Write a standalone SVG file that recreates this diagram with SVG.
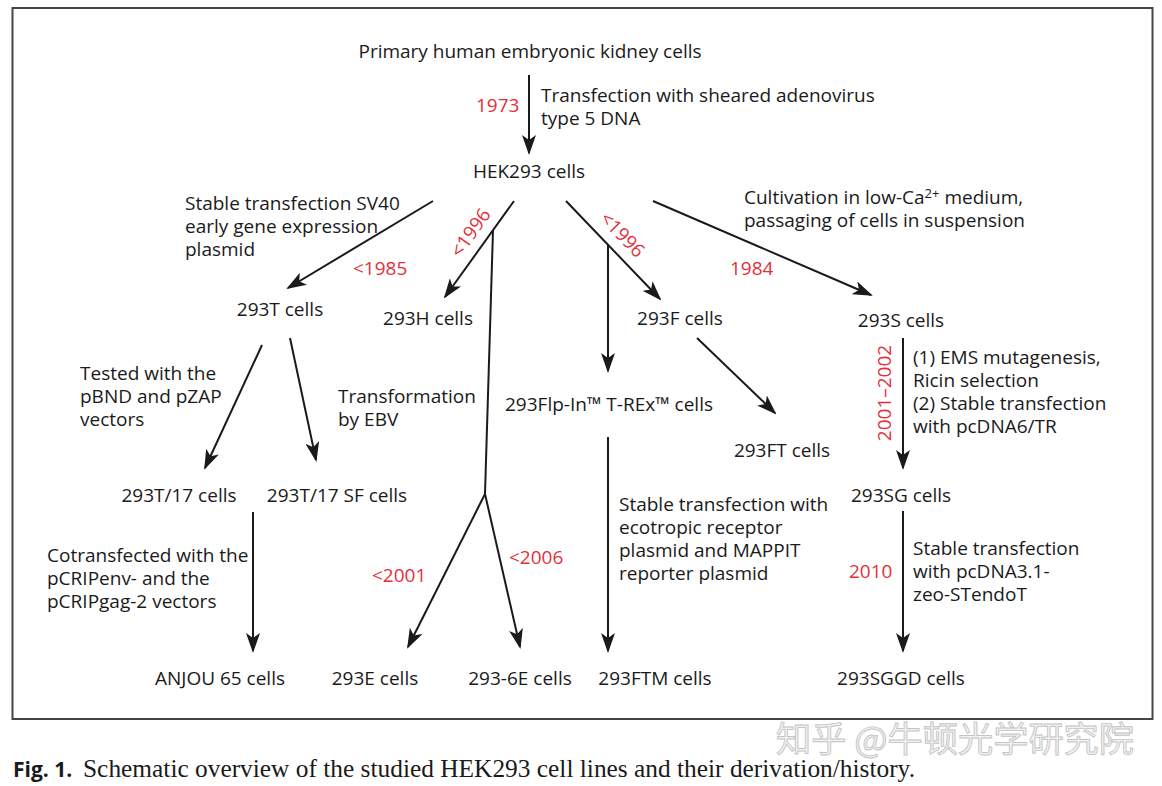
<svg xmlns="http://www.w3.org/2000/svg" width="1162" height="786" viewBox="0 0 1162 786">
<style>
.t{font-family:"Open Sans","Noto Sans","DejaVu Sans",sans-serif;font-size:19px;fill:#1a1a1a}
.r{font-family:"Open Sans","Noto Sans","DejaVu Sans",sans-serif;font-size:19px;fill:#e3303b}
.ln{stroke:#1a1a1a;stroke-width:2;fill:none}
.a{stroke:#1a1a1a;stroke-width:2;fill:none;marker-end:url(#ah)}
</style>
<defs>
<marker id="ah" viewBox="0 0 20 14" refX="18" refY="7" markerWidth="20" markerHeight="14" markerUnits="userSpaceOnUse" orient="auto">
<path d="M0,0 L20,7 L0,14 L5,7 Z" fill="#1a1a1a"/>
</marker>
</defs>
<rect width="1162" height="786" fill="#fff"/>
<rect x="12.5" y="8" width="1140" height="711" fill="none" stroke="#444" stroke-width="2"/>

<g id="connectors">
<line class="a" x1="529" y1="75" x2="529" y2="153"/>
<line class="a" x1="433" y1="201" x2="288" y2="288"/>
<line class="a" x1="514" y1="201" x2="445" y2="297"/>
<polyline class="ln" points="493,230 485,494"/>
<line class="a" x1="485" y1="494" x2="408" y2="647"/>
<line class="a" x1="485" y1="494" x2="520" y2="647"/>
<line class="a" x1="566" y1="201" x2="660" y2="299"/>
<line class="a" x1="608" y1="244" x2="608" y2="371"/>
<line class="a" x1="653" y1="201" x2="871" y2="295"/>
<line class="a" x1="262" y1="345" x2="205" y2="468"/>
<line class="a" x1="290" y1="338" x2="316" y2="460"/>
<line class="a" x1="697" y1="338" x2="775" y2="413"/>
<line class="a" x1="903" y1="338" x2="903" y2="468"/>
<line class="a" x1="253" y1="512" x2="253" y2="651"/>
<line class="a" x1="608" y1="437" x2="608" y2="651"/>
<line class="a" x1="903" y1="511" x2="903" y2="651"/>
</g>

<g id="labels">
<text class="r" x="476" y="112">1973</text>
<text class="t" x="541" y="102">Transfection with sheared adenovirus<tspan x="541" dy="23">type 5 DNA</tspan></text>
<text class="t" x="185" y="210">Stable transfection SV40<tspan x="185" dy="23">early gene expression</tspan><tspan x="185" dy="23">plasmid</tspan></text>
<text class="r" x="353" y="275">&lt;1985</text>
<text class="r" transform="translate(471,233) rotate(-54.7)" text-anchor="middle" y="6">&lt;1996</text>
<text class="r" transform="translate(622,235) rotate(45.9)" text-anchor="middle" y="6">&lt;1996</text>
<text class="t" x="744" y="204">Cultivation in low-Ca<tspan font-size="13" dy="-6">2+</tspan><tspan dy="6"> medium,</tspan><tspan x="744" dy="23">passaging of cells in suspension</tspan></text>
<text class="r" x="730" y="275">1984</text>
<text class="t" x="80" y="380">Tested with the<tspan x="80" dy="23">pBND and pZAP</tspan><tspan x="80" dy="23">vectors</tspan></text>
<text class="t" x="338" y="403">Transformation<tspan x="338" dy="23">by EBV</tspan></text>
<text class="r" transform="translate(885,393) rotate(-90)" text-anchor="middle" y="6">2001–2002</text>
<text class="t" x="913" y="364">(1) EMS mutagenesis,<tspan x="913" dy="23">Ricin selection</tspan><tspan x="913" dy="23">(2) Stable transfection</tspan><tspan x="913" dy="23">with pcDNA6/TR</tspan></text>
<text class="t" x="47" y="562">Cotransfected with the<tspan x="47" dy="23">pCRIPenv- and the</tspan><tspan x="47" dy="23">pCRIPgag-2 vectors</tspan></text>
<text class="r" x="372" y="582">&lt;2001</text>
<text class="r" x="509" y="564">&lt;2006</text>
<text class="t" x="619" y="511">Stable transfection with<tspan x="619" dy="23">ecotropic receptor</tspan><tspan x="619" dy="23">plasmid and MAPPIT</tspan><tspan x="619" dy="23">reporter plasmid</tspan></text>
<text class="r" x="849" y="578">2010</text>
<text class="t" x="913" y="555">Stable transfection<tspan x="913" dy="23">with pcDNA3.1-</tspan><tspan x="913" dy="23">zeo-STendoT</tspan></text>
</g>

<g id="n-primary"><text class="t" x="530" y="58" text-anchor="middle">Primary human embryonic kidney cells</text></g>
<g id="n-hek293"><text class="t" x="529" y="178" text-anchor="middle">HEK293 cells</text></g>
<g id="n-293T"><text class="t" x="280" y="316" text-anchor="middle">293T cells</text></g>
<g id="n-293H"><text class="t" x="428" y="325" text-anchor="middle">293H cells</text></g>
<g id="n-293F"><text class="t" x="680" y="325" text-anchor="middle">293F cells</text></g>
<g id="n-293S"><text class="t" x="901" y="327" text-anchor="middle">293S cells</text></g>
<g id="n-293Flp"><text class="t" x="609" y="411" text-anchor="middle">293Flp-In™ T-REx™ cells</text></g>
<g id="n-293FT"><text class="t" x="782" y="457" text-anchor="middle">293FT cells</text></g>
<g id="n-293T17"><text class="t" x="179" y="502" text-anchor="middle">293T/17 cells</text></g>
<g id="n-293T17SF"><text class="t" x="337" y="502" text-anchor="middle">293T/17 SF cells</text></g>
<g id="n-293SG"><text class="t" x="901" y="502" text-anchor="middle">293SG cells</text></g>
<g id="n-anjou"><text class="t" x="220" y="685" text-anchor="middle">ANJOU 65 cells</text></g>
<g id="n-293E"><text class="t" x="375" y="685" text-anchor="middle">293E cells</text></g>
<g id="n-2936E"><text class="t" x="520" y="685" text-anchor="middle">293-6E cells</text></g>
<g id="n-293FTM"><text class="t" x="655" y="685" text-anchor="middle">293FTM cells</text></g>
<g id="n-293SGGD"><text class="t" x="901" y="685" text-anchor="middle">293SGGD cells</text></g>

<text x="776" y="752" font-family="Noto Sans CJK SC, sans-serif" font-size="35" textLength="358" lengthAdjust="spacingAndGlyphs" fill="#f2f2f2" stroke="#c4c4c4" stroke-width="0.9">知乎 @牛顿光学研究院</text>
<text x="13" y="777" font-family="Open Sans, sans-serif" font-weight="bold" font-size="21" fill="#1a1a1a">Fig. 1.</text>
<text x="83" y="777" font-family="Liberation Serif, serif" font-size="25" textLength="832" lengthAdjust="spacingAndGlyphs" fill="#1a1a1a">Schematic overview of the studied HEK293 cell lines and their derivation/history.</text>
</svg>
